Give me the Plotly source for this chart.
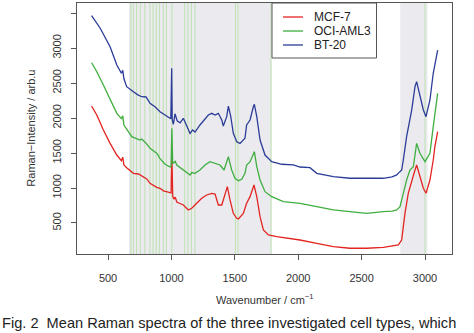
import plotly.graph_objects as go

# ---------------- data ----------------
series_names = ["MCF-7", "OCI-AML3", "BT-20"]

wn_mcf7 = [370, 411, 463, 516, 569, 605, 616, 625, 647, 700, 740, 766, 805, 831, 884, 910, 936,
           975, 997, 1003, 1010, 1020, 1030, 1042, 1094, 1133, 1160, 1199, 1239, 1278, 1318, 1344,
           1370, 1397, 1423, 1441, 1462, 1488, 1515, 1528, 1567, 1593, 1620, 1651, 1673, 1699,
           1725, 1765, 1830, 2014, 2146, 2277, 2408, 2540, 2671, 2724, 2790, 2816, 2842, 2868,
           2895, 2921, 2934, 2960, 2987, 3008, 3039, 3065, 3078, 3100]
int_mcf7 = [2171, 2043, 1829, 1638, 1471, 1390, 1440, 1330, 1290, 1210, 1200, 1170, 1130, 1067,
            1010, 995, 960, 940, 930, 1500, 880, 840, 870, 800, 757, 686, 710, 781, 853, 900, 924,
            914, 757, 757, 900, 1019, 829, 638, 567, 557, 638, 781, 876, 1043, 876, 590, 400, 329,
            304, 257, 210, 161, 139, 139, 153, 171, 186, 257, 638, 924, 1114, 1257, 1329, 1161,
            996, 924, 1114, 1400, 1590, 1804]

wn_oci = [371, 411, 463, 516, 569, 605, 616, 625, 687, 752, 766, 800, 831, 884, 910, 950, 989,
          997, 1003, 1010, 1030, 1042, 1094, 1120, 1147, 1160, 1186, 1225, 1265, 1304, 1344, 1383,
          1415, 1441, 1449, 1475, 1501, 1528, 1554, 1580, 1593, 1620, 1654, 1673, 1699, 1738,
          1791, 1883, 2014, 2146, 2277, 2408, 2540, 2671, 2740, 2777, 2803, 2829, 2855, 2881,
          2908, 2934, 2960, 3000, 3039, 3065, 3092, 3100]
int_oci = [2790, 2661, 2471, 2257, 2067, 1990, 2030, 1900, 1733, 1686, 1700, 1640, 1567, 1496,
           1420, 1340, 1300, 1310, 1853, 1350, 1380, 1329, 1257, 1233, 1186, 1220, 1210, 1257,
           1329, 1376, 1353, 1329, 1257, 1400, 1447, 1257, 1139, 1104, 1124, 1210, 1329, 1376,
           1519, 1304, 1114, 947, 876, 804, 781, 733, 686, 661, 638, 661, 670, 686, 733, 924,
           1114, 1257, 1304, 1638, 1496, 1376, 1496, 1876, 2304, 2353]

wn_bt20 = [370, 437, 516, 569, 605, 616, 625, 647, 700, 735, 766, 800, 831, 870, 910, 936, 975,
           995, 1002, 1006, 1015, 1028, 1045, 1068, 1094, 1120, 1147, 1167, 1186, 1225, 1265,
           1291, 1318, 1344, 1370, 1397, 1409, 1436, 1449, 1468, 1488, 1515, 1541, 1580, 1593,
           1620, 1646, 1654, 1673, 1699, 1738, 1791, 1870, 1961, 2014, 2093, 2146, 2277, 2408,
           2540, 2671, 2740, 2777, 2800, 2816, 2829, 2855, 2895, 2921, 2934, 2960, 2987, 3008,
           3039, 3065, 3092, 3100]
int_bt20 = [3461, 3286, 3019, 2757, 2640, 2680, 2560, 2447, 2376, 2330, 2304, 2300, 2210, 2160,
            2090, 2060, 2020, 1990, 2710, 1980, 1910, 2060, 1960, 1930, 1995, 1900, 1780, 1830,
            1800, 1900, 1996, 2043, 2067, 2043, 2067, 1971, 1886, 2019, 2171, 2019, 1781, 1661,
            1638, 1710, 1900, 1971, 2161, 2196, 2019, 1686, 1471, 1376, 1339, 1329, 1300, 1290,
            1210, 1161, 1139, 1139, 1139, 1160, 1186, 1230, 1257, 1400, 1733, 2114, 2447, 2519,
            2304, 2114, 2019, 2257, 2639, 2926, 2971]

# marked band positions (cm^-1) and shaded ranges
band_positions = [680, 700, 725, 755, 790, 830, 855, 880, 905, 935, 960, 1003, 1105, 1130,
                  1158, 1185, 1505, 1525, 1785, 3000]
shaded_ranges = [(665, 1790), (2805, 3020)]

x_ticks = [500, 1000, 1500, 2000, 2500, 3000]
y_ticks = [500, 1000, 1500, 2000, 2500, 3000, 3500]

colors = ["#e32421", "#3fae3f", "#2b3c98"]

# ---------------- figure ----------------
fig = go.Figure()
for name, xs, ys, c in zip(series_names, [wn_mcf7, wn_oci, wn_bt20],
                           [int_mcf7, int_oci, int_bt20], colors):
    fig.add_trace(go.Scatter(x=xs, y=ys, mode="lines", name=name,
                             line=dict(color=c, width=1.3), showlegend=False))

shapes = []
for a, b in shaded_ranges:
    shapes.append(dict(type="rect", xref="x", yref="paper", x0=a, x1=b, y0=0, y1=1,
                       fillcolor="#ebebef", line=dict(width=0), layer="below"))
for p in band_positions:
    shapes.append(dict(type="line", xref="x", yref="paper", x0=p, x1=p, y0=0, y1=1,
                       line=dict(color="#c2e2b6", width=1.1), layer="below"))

# legend box (R-style compact legend), drawn above the traces
leg_x0, leg_x1, leg_y0, leg_y1 = 0.52, 0.7987, 0.7809, 1.0
leg_rows = [0.9442, 0.8884, 0.8327]
shapes.append(dict(type="rect", xref="paper", yref="paper", x0=leg_x0, x1=leg_x1,
                   y0=leg_y0, y1=leg_y1, fillcolor="white",
                   line=dict(color="#555", width=1), layer="above"))
annotations = []
for name, c, yy in zip(series_names, colors, leg_rows):
    shapes.append(dict(type="line", xref="paper", yref="paper", x0=0.5493, x1=0.6027,
                       y0=yy, y1=yy, line=dict(color=c, width=1.3), layer="above"))
    annotations.append(dict(text=name, xref="paper", yref="paper", x=0.6267, y=yy,
                            xanchor="left", yanchor="middle", showarrow=False,
                            font=dict(size=12, color="#222")))

font = "Liberation Sans, Arial, sans-serif"
annotations += [
    dict(text="Wavenumber / cm<sup>−1</sup>", xref="paper", yref="paper",
         x=0.5, y=-0.18, xanchor="center", yanchor="middle", showarrow=False,
         font=dict(size=11, color="#333")),
    dict(text="Raman−Intensity / arb.u", xref="paper", yref="paper",
         x=-0.125, y=0.5, xanchor="center", yanchor="middle", showarrow=False,
         textangle=-90, font=dict(size=11, color="#333")),
    dict(text="Fig. 2  Mean Raman spectra of the three investigated cell types, which",
         xref="paper", yref="paper", x=-0.2053, y=-0.3147, xanchor="left",
         yanchor="bottom", showarrow=False, font=dict(size=14.6, color="#222")),
]

fig.update_layout(
    width=474, height=333,
    margin=dict(l=77, r=22, t=3, b=79),
    plot_bgcolor="white", paper_bgcolor="white",
    shapes=shapes,
    font=dict(family=font, size=11, color="#333"),
    showlegend=False,
    xaxis=dict(range=[255, 3213], tickvals=x_ticks, ticks="outside", ticklen=5,
               tickcolor="#555", showline=True, linecolor="#555", linewidth=1,
               mirror=True, showgrid=False, zeroline=False, ticklabelstandoff=9),
    yaxis=dict(range=[57, 3643], tickvals=y_ticks, ticks="outside", ticklen=5,
               tickcolor="#555", showline=True, linecolor="#555", linewidth=1,
               mirror=True, showgrid=False, zeroline=False, tickangle=-90,
               ticklabelstandoff=6),
    annotations=annotations,
)

fig.write_html("out.html")
